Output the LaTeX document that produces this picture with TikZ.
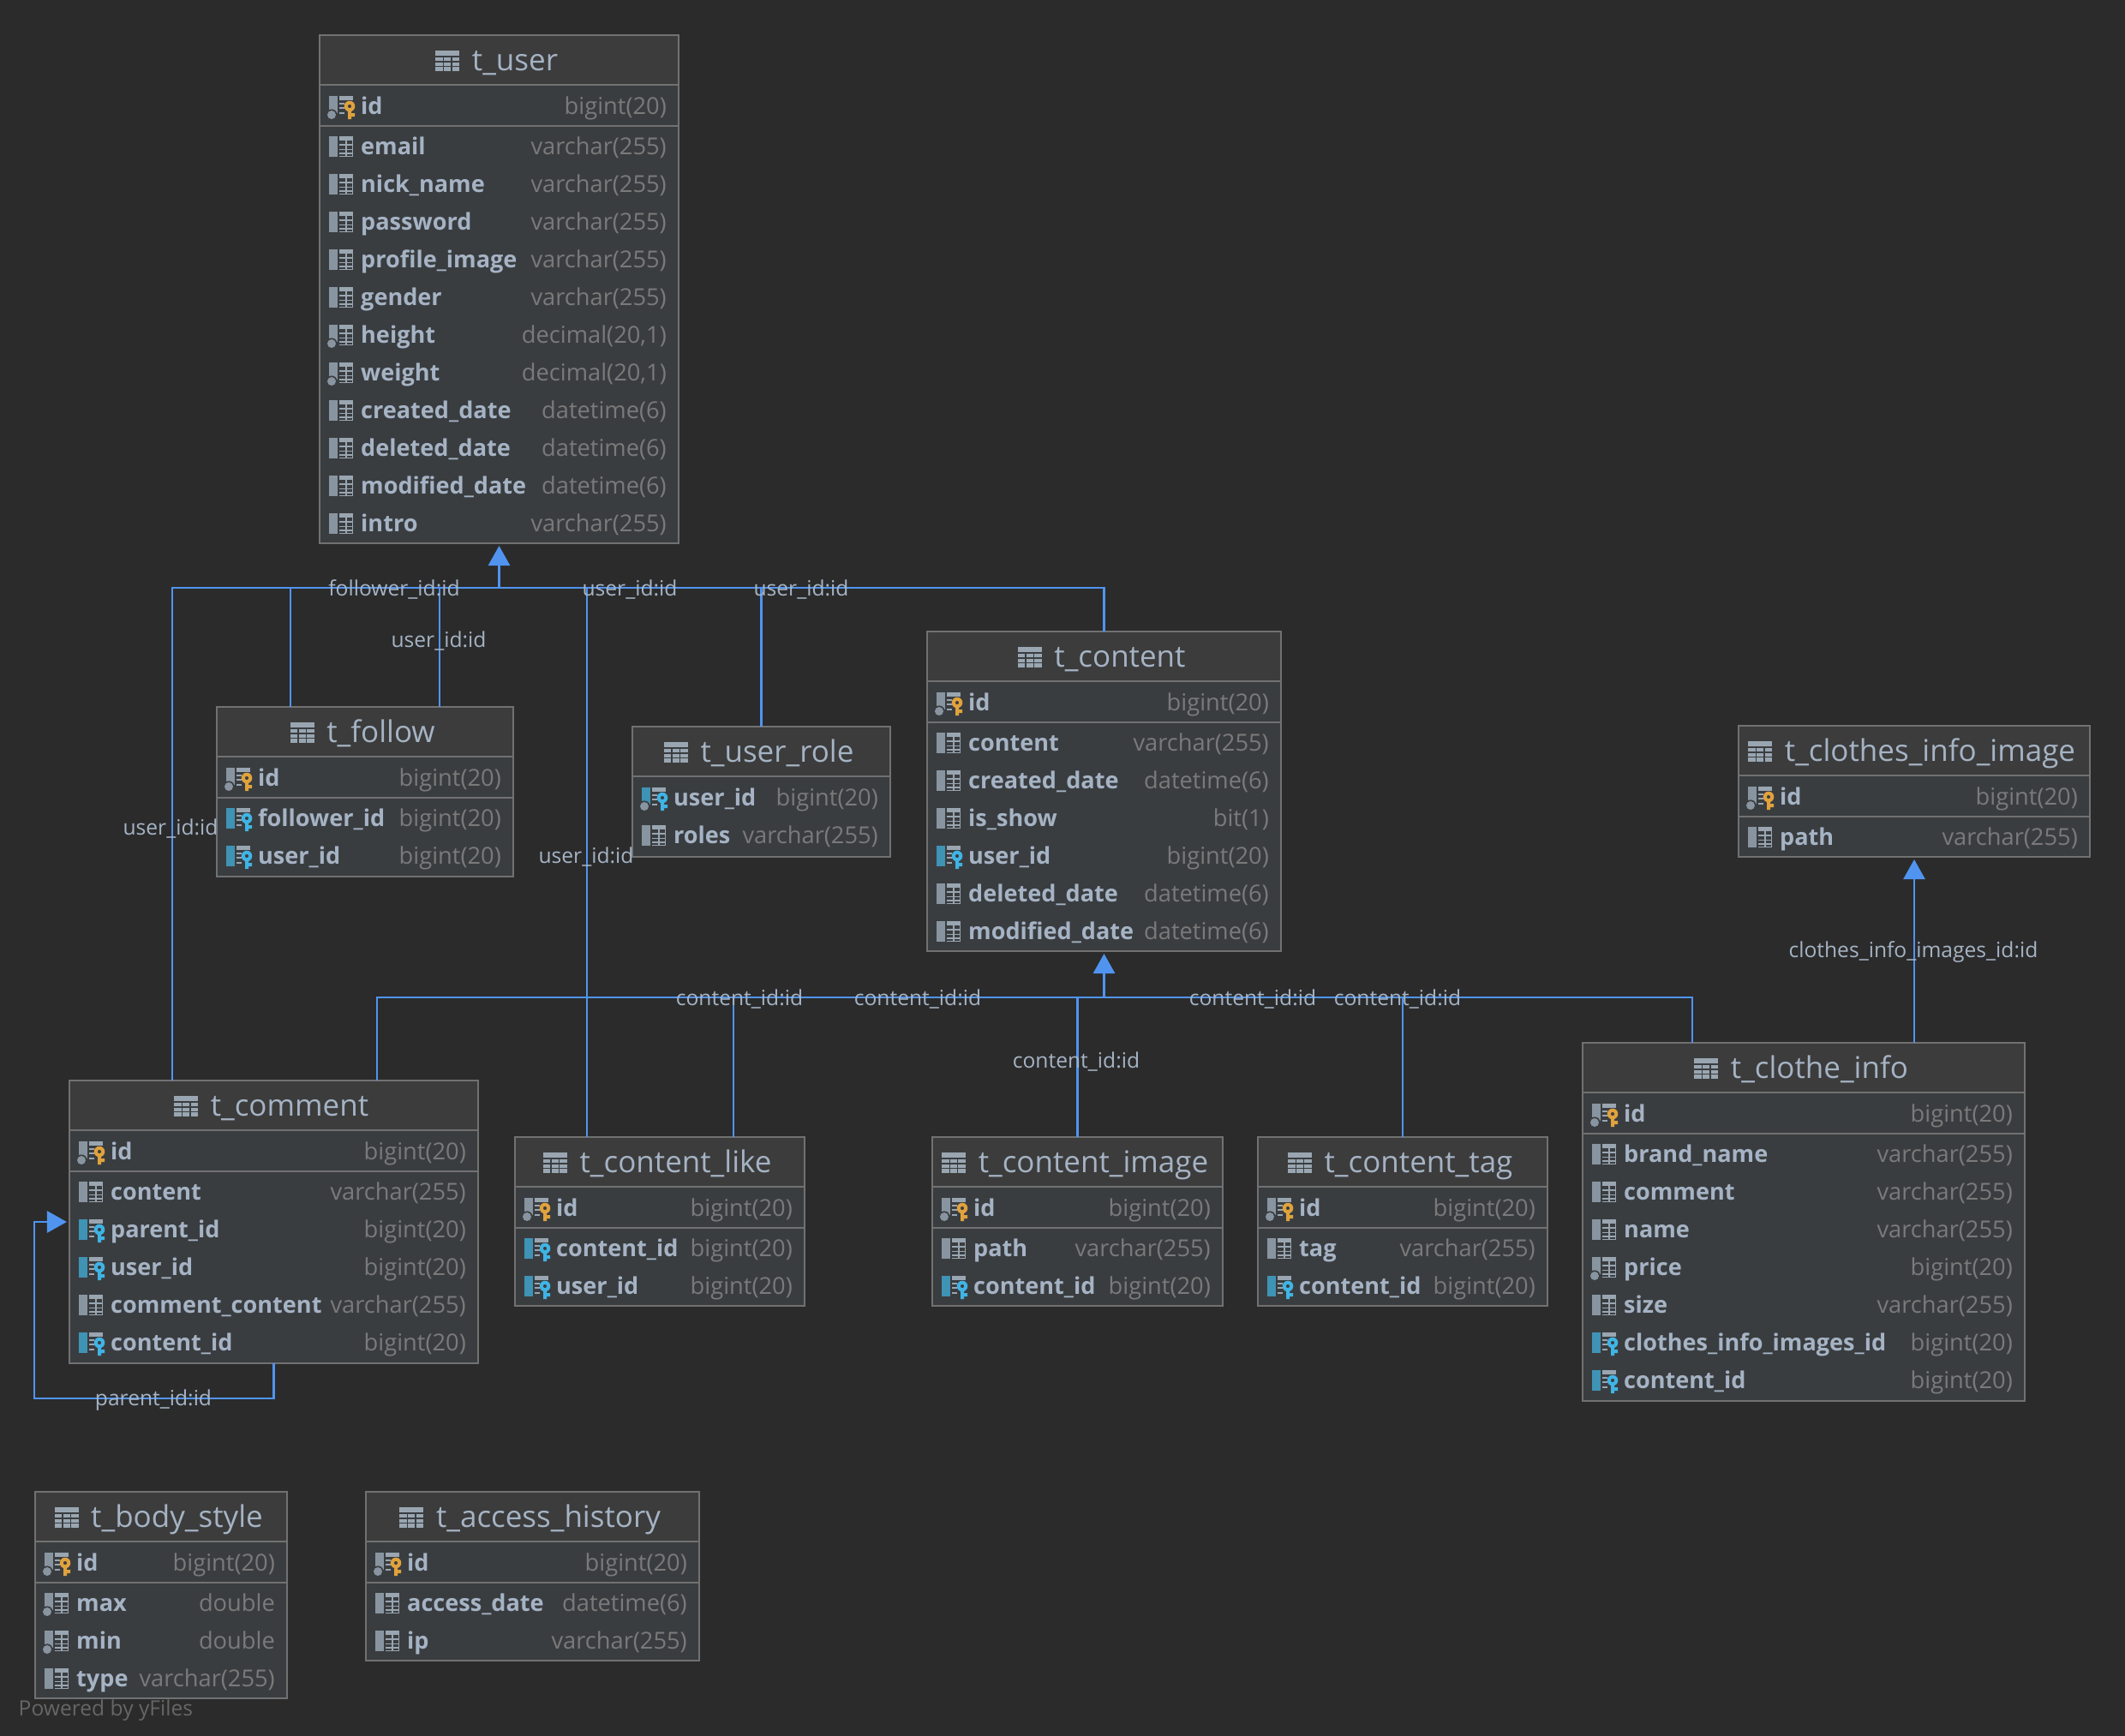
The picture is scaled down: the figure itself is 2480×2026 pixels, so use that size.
\documentclass[tikz,border=0pt]{standalone}
\usepackage{fontspec}
\setmainfont{Open Sans}
\usetikzlibrary{arrows.meta, positioning}
\definecolor{pagebg}{HTML}{2B2B2B}
\definecolor{headbg}{HTML}{3C3C3C}
\definecolor{rowbg}{HTML}{3A3D40}
\definecolor{rim}{HTML}{717171}
\definecolor{linkblue}{HTML}{5094F0}
\definecolor{inktext}{HTML}{A5B3C4}
\definecolor{inktype}{HTML}{7A7A7A}
\definecolor{iconbar}{HTML}{8895A0}
\definecolor{icongrid}{HTML}{99A6B1}
\definecolor{fkbar}{HTML}{3F93B5}
\definecolor{fkkey}{HTML}{3FB4E4}
\definecolor{pkkey}{HTML}{E0A23C}

% column icon parts, local unit is one pixel of the reference
\newcommand{\fullgrid}{%
  \fill[icongrid] (12,-12) rectangle (28,-7);
  \draw[icongrid, line width=.45pt] (12,-2) -- (28,-2) (12,3.5) -- (28,3.5)
    (12,8) -- (28,8) (12,11.6) -- (28,11.6) (20,-7) -- (20,12) (27.6,-7) -- (27.6,12);
}
\newcommand{\keygrid}{%
  \fill[icongrid] (12,-12) rectangle (28,-7);
  \draw[icongrid, line width=.55pt] (12,-3) -- (18,-3) (12,2) -- (18,2) (12,8) -- (18,8);
}
\newcommand{\nulldot}{%
  \fill[rowbg] (3,10) circle (6.6);
  \fill[iconbar] (3,10) circle (5);
}
\newcommand{\drawkey}[1]{%
  \fill[#1, even odd rule] (24,0) circle (6.3) (24,0) circle (2.2);
  \fill[#1] (22,4) rectangle (26,15) (26,8) rectangle (30,12);
}
\newcommand{\iconcol}{\fill[iconbar] (0,-12) rectangle (10,12); \fullgrid}
\newcommand{\iconnn}{\fill[iconbar] (0,-12) rectangle (10,8); \nulldot \fullgrid}
\newcommand{\iconpk}{\fill[iconbar] (0,-12) rectangle (10,8); \nulldot \keygrid \drawkey{pkkey}}
\newcommand{\iconfk}{\fill[fkbar] (0,-12) rectangle (10,12); \keygrid \drawkey{fkkey}}
\newcommand{\iconfkn}{\fill[fkbar] (0,-12) rectangle (10,8); \nulldot \keygrid \drawkey{fkkey}}

% [gap under first row]{node}{title}{x}{y}{width}{height}{icon/name/type rows}
\newcommand{\dbtable}[8][3]{%
  \node[tbl, minimum width=#6*0.01cm, minimum height=#7*0.01cm] (#2) at (#4,#5) {};
  \node[tblhead, minimum width=#6*0.01cm] (#2-head) at (#2.north west) {};
  \node[tbltitle] (#2-title) at ([shift={(18.5,41.5)}]#2.north) {#3};
  \begin{scope}[shift={([shift={(-42,-11.5)}]#2-title.base west)}]
    \fill[icongrid] (0,-12) rectangle (28,12);
    \draw[rowbg, line width=.4pt] (0,-5) -- (28,-5) (0,1) -- (28,1) (0,6.5) -- (28,6.5)
      (9.3,-5) -- (9.3,12) (18.7,-5) -- (18.7,12);
  \end{scope}
  \ifnum#1>0 \draw[rim, line width=.6pt] ([shift={(0,106)}]#2.north west) -- ([shift={(0,106)}]#2.north east);\fi
  \foreach \ic/\colname/\coltype [count=\n] in {#8} {
    \pgfmathsetmacro{\rowy}{83+44*(\n-1)+(\n>1)*#1}
    \begin{scope}[shift={([shift={(11,\rowy)}]#2.north west)}]
      \csname icon\ic\endcsname
    \end{scope}
    \node[colname] (#2-\n) at ([shift={(47.5,\rowy+9.5)}]#2.north west) {\colname};
    \node[coltype] (#2-\n-type) at ([shift={(-13.5,\rowy+9.5)}]#2.north east) {\coltype};
  }
}

\begin{document}
\begin{tikzpicture}[
  x=0.01cm, y=-0.01cm,
  tbl/.style={draw=rim, fill=rowbg, line width=.7pt, anchor=north west,
    inner sep=0pt, outer sep=0pt},
  tblhead/.style={draw=rim, fill=headbg, line width=.7pt, anchor=north west,
    minimum height=0.58cm, inner sep=0pt, outer sep=0pt},
  tbltitle/.style={anchor=base, inner sep=0pt, text=inktext,
    font=\fontsize{9.95}{12}\selectfont},
  colname/.style={anchor=base west, inner sep=0pt, text=inktext,
    font=\fontsize{7.7}{9}\selectfont\bfseries},
  coltype/.style={anchor=base east, inner sep=0pt, text=inktype,
    font=\fontsize{7.75}{9}\selectfont},
  arr/.style={draw=linkblue, line width=.8pt},
  lbl/.style={inner sep=0pt, text=inktext, font=\fontsize{7}{9}\selectfont},
  head/.style={-{Triangle[length=0.23cm, width=0.25cm]}, shorten >=0.03cm},
]
\fill[pagebg] (0,0) rectangle (2480,2026);
% tables
\dbtable{user}{t\_user}{373}{41}{419}{593}{pk/id/bigint(20), col/email/varchar(255),
  col/nick\_name/varchar(255), col/password/varchar(255), col/profile\_image/varchar(255),
  col/gender/varchar(255), nn/height/{decimal(20,1)}, nn/weight/{decimal(20,1)},
  col/created\_date/datetime(6), col/deleted\_date/datetime(6),
  col/modified\_date/datetime(6), col/intro/varchar(255)}
\dbtable{follow}{t\_follow}{253}{825}{346}{198}{pk/id/bigint(20),
  fk/follower\_id/bigint(20), fk/user\_id/bigint(20)}
\dbtable[0]{userrole}{t\_user\_role}{738}{848}{301}{152}{fkn/user\_id/bigint(20),
  col/roles/varchar(255)}
\dbtable{content}{t\_content}{1082}{737}{413}{373}{pk/id/bigint(20), col/content/varchar(255),
  col/created\_date/datetime(6), col/is\_show/bit(1), fk/user\_id/bigint(20),
  col/deleted\_date/datetime(6), col/modified\_date/datetime(6)}
\dbtable{clothesimage}{t\_clothes\_info\_image}{2029}{847}{410}{153}{pk/id/bigint(20),
  col/path/varchar(255)}
\dbtable{comment}{t\_comment}{81}{1261}{477}{330}{pk/id/bigint(20), col/content/varchar(255),
  fk/parent\_id/bigint(20), fk/user\_id/bigint(20), col/comment\_content/varchar(255),
  fk/content\_id/bigint(20)}
\dbtable{contentlike}{t\_content\_like}{601}{1327}{338}{197}{pk/id/bigint(20),
  fk/content\_id/bigint(20), fk/user\_id/bigint(20)}
\dbtable{contentimage}{t\_content\_image}{1088}{1327}{339}{197}{pk/id/bigint(20),
  col/path/varchar(255), fk/content\_id/bigint(20)}
\dbtable{contenttag}{t\_content\_tag}{1468}{1327}{338}{197}{pk/id/bigint(20),
  col/tag/varchar(255), fk/content\_id/bigint(20)}
\dbtable{clotheinfo}{t\_clothe\_info}{1847}{1217}{516}{418}{pk/id/bigint(20),
  col/brand\_name/varchar(255), col/comment/varchar(255), col/name/varchar(255),
  nn/price/bigint(20), col/size/varchar(255), fk/clothes\_info\_images\_id/bigint(20),
  fk/content\_id/bigint(20)}
\dbtable{bodystyle}{t\_body\_style}{41}{1741}{294}{241}{pk/id/bigint(20), nn/max/double,
  nn/min/double, col/type/varchar(255)}
\dbtable{accesshistory}{t\_access\_history}{427}{1741}{389}{197}{pk/id/bigint(20),
  col/access\_date/datetime(6), col/ip/varchar(255)}
% links to t_user
\coordinate (userbus) at (user.south |- 0,686);
\draw[arr] ([xshift=-1.185cm]comment.north) |- (userbus);
\draw[arr] ([xshift=-0.87cm]follow.north) |- (userbus);
\draw[arr] ([xshift=0.87cm]follow.north) |- (userbus);
\draw[arr] ([xshift=-0.85cm]contentlike.north) |- (userbus);
\draw[arr] (userrole.north) |- (userbus);
\draw[arr] (content.north) |- (userbus);
\draw[arr, head] (userbus) -- (user.south);
% links to t_content
\coordinate (contentbus) at (content.south |- 0,1164);
\draw[arr] ([xshift=1.205cm]comment.north) |- (contentbus);
\draw[arr] ([xshift=0.86cm]contentlike.north) |- (contentbus);
\draw[arr] (contentimage.north) |- (contentbus);
\draw[arr] (contenttag.north) |- (contentbus);
\draw[arr] ([xshift=-1.3cm]clotheinfo.north) |- (contentbus);
\draw[arr, head] (contentbus) -- (content.south);
% images link
\draw[arr, head] (clothesimage.south |- clotheinfo.north) -- (clothesimage.south);
% self link of t_comment
\coordinate (selfcorner) at (40,1632);
\coordinate (selfport) at (comment.west |- 0,1426);
\draw[arr, head] (comment.south) |- (selfcorner) |- (selfport);
% link labels
\node[lbl] (lfollower) at (460,688) {follower\_id:id};
\node[lbl] (luser1) at (512,748) {user\_id:id};
\node[lbl] (luser2) at (735,688) {user\_id:id};
\node[lbl] (luser3) at (935,688) {user\_id:id};
\node[lbl] (luser4) at (199,967) {user\_id:id};
\node[lbl] (luser5) at (684,1000) {user\_id:id};
\node[lbl] (lcontent1) at (863,1166) {content\_id:id};
\node[lbl] (lcontent2) at (1071,1166) {content\_id:id};
\node[lbl] (lcontent3) at (1256,1239) {content\_id:id};
\node[lbl] (lcontent4) at (1462,1166) {content\_id:id};
\node[lbl] (lcontent5) at (1631,1166) {content\_id:id};
\node[lbl] (limages) at (2233,1111) {clothes\_info\_images\_id:id};
\node[lbl] (lparent) at (179,1634) {parent\_id:id};
\node[lbl, anchor=base west, text=inktype!75!pagebg] (yfiles) at (21,2002) {Powered by yFiles};
\end{tikzpicture}
\end{document}
